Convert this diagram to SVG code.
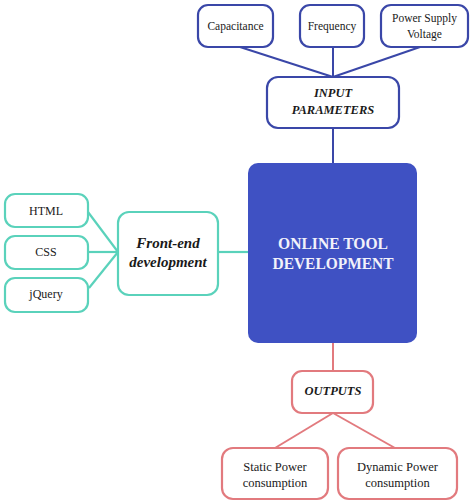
<svg xmlns="http://www.w3.org/2000/svg" width="474" height="502" viewBox="0 0 474 502">
<style>
.b{fill:#fff;stroke:#3a47a8;stroke-width:2.2}
.t{fill:#fff;stroke:#5ad2bb;stroke-width:2.2}
.p{fill:#fff;stroke:#e27a7e;stroke-width:2.2}
.lb{stroke:#3a47a8;stroke-width:2;fill:none}
.lt{stroke:#5ad2bb;stroke-width:2.2;fill:none}
.lp{stroke:#e27a7e;stroke-width:2;fill:none}
text{fill:#1a1a1a;text-anchor:middle}
.bi{font-weight:bold;font-style:italic}
</style>
<rect width="474" height="502" fill="#fff"/>
<g id="connectors">
<line class="lb" x1="240" y1="47" x2="333" y2="77"/>
<line class="lb" x1="333" y1="47" x2="333" y2="77"/>
<line class="lb" x1="420" y1="47" x2="333" y2="77"/>
<line class="lb" x1="333" y1="128" x2="333" y2="164"/>
<line class="lt" x1="88" y1="212" x2="118" y2="252"/>
<line class="lt" x1="88" y1="252" x2="118" y2="252"/>
<line class="lt" x1="89" y1="288" x2="118" y2="252"/>
<line class="lt" x1="218" y1="252" x2="248" y2="252"/>
<line class="lp" x1="333" y1="343" x2="333" y2="371"/>
<line class="lp" x1="333" y1="413" x2="275" y2="448"/>
<line class="lp" x1="333" y1="413" x2="395" y2="448"/>
</g>
<g font-family="Liberation Serif, Times New Roman, DejaVu Serif, serif">
<g id="capacitance"><rect class="b" x="198" y="5" width="75" height="42" rx="10"/><text x="235.5" y="30" font-size="11.5">Capacitance</text></g>
<g id="frequency"><rect class="b" x="300" y="5" width="64" height="42" rx="10"/><text x="332" y="30" font-size="11.5">Frequency</text></g>
<g id="power-supply"><rect class="b" x="381" y="5" width="87" height="42" rx="10"/><text x="424.5" y="22" font-size="11.5">Power Supply</text><text x="424.5" y="38" font-size="11.5">Voltage</text></g>
<g id="input"><rect class="b" x="267" y="77" width="132" height="51" rx="11"/><text class="bi" x="333" y="97" font-size="12.5">INPUT</text><text class="bi" x="333" y="114" font-size="12.5">PARAMETERS</text></g>
<g id="main"><rect x="248" y="163" width="169" height="180" rx="10" fill="#3f51c3"/><text x="333" y="249" font-size="17" font-weight="bold" style="fill:#f2f2fa" textLength="110" lengthAdjust="spacingAndGlyphs">ONLINE TOOL</text><text x="333" y="269" font-size="17" font-weight="bold" style="fill:#f2f2fa" textLength="121" lengthAdjust="spacingAndGlyphs">DEVELOPMENT</text></g>
<g id="html"><rect class="t" x="5" y="194" width="83" height="33" rx="10"/><text x="46" y="215" font-size="12">HTML</text></g>
<g id="css"><rect class="t" x="5" y="236" width="83" height="33" rx="10"/><text x="46" y="256" font-size="12">CSS</text></g>
<g id="jquery"><rect class="t" x="5" y="278" width="83" height="34" rx="10"/><text x="46" y="298" font-size="12">jQuery</text></g>
<g id="frontend"><rect class="t" x="118" y="212" width="100" height="83" rx="11"/><text class="bi" x="168" y="248" font-size="15">Front-end</text><text class="bi" x="168" y="267" font-size="15">development</text></g>
<g id="outputs"><rect class="p" x="292" y="371" width="81" height="42" rx="10"/><text class="bi" x="333" y="395" font-size="12.5">OUTPUTS</text></g>
<g id="static"><rect class="p" x="222" y="448" width="106" height="51" rx="11"/><text x="275" y="471" font-size="12.5">Static Power</text><text x="275" y="487" font-size="12.5">consumption</text></g>
<g id="dynamic"><rect class="p" x="338" y="448" width="119" height="51" rx="11"/><text x="397.5" y="471" font-size="12.5">Dynamic Power</text><text x="397.5" y="487" font-size="12.5">consumption</text></g>
</g>
</svg>
